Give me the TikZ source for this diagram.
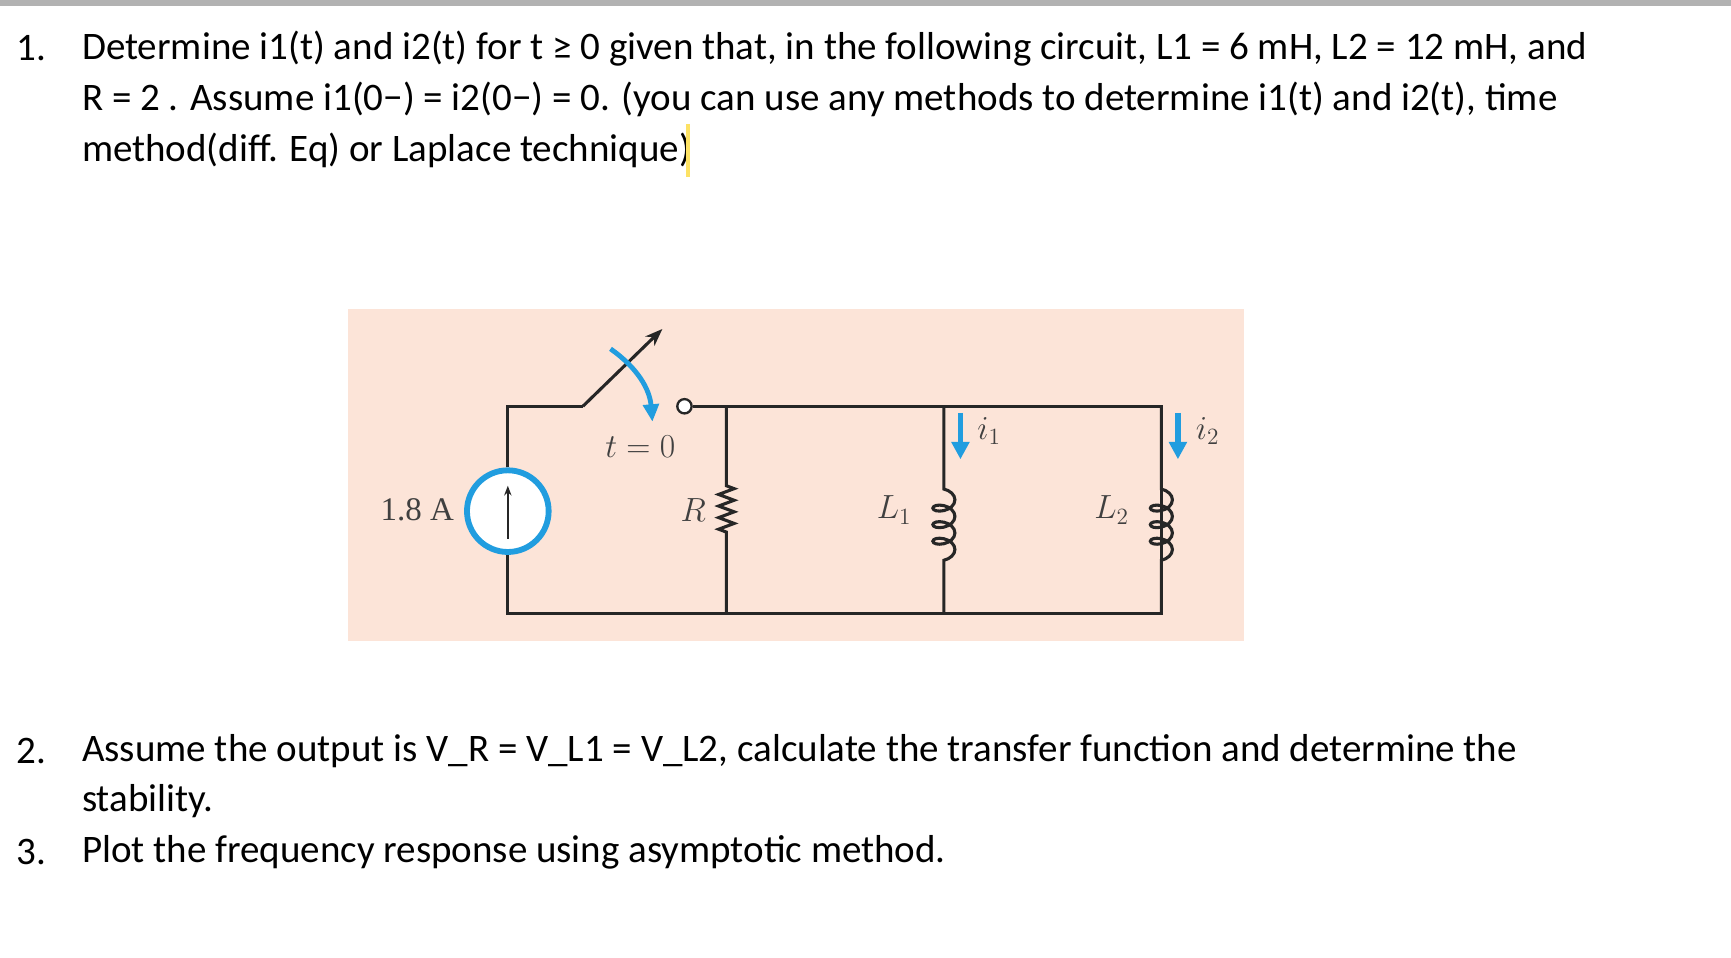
\documentclass[tikz,border=0pt]{standalone}
\usepackage{fontspec}
\setmainfont{Carlito}
\newfontfamily\serf{Liberation Serif}
\usetikzlibrary{decorations.pathmorphing,arrows.meta}
\begin{document}
\begin{tikzpicture}[x=0.02cm,y=-0.02cm,
  txt/.style={anchor=west,font=\fontsize{20.1}{23}\selectfont,inner sep=0},
  wire/.style={line width=1.6pt,black!85},
  lab/.style={font=\fontsize{17}{20}\selectfont\serf,text=black!75,inner sep=0},
  blu/.style={draw=cyan!80!blue!90,line width=3pt}]
\fill[white] (0,0) rectangle (1568,867);
\useasboundingbox (0,0) rectangle (1568,867);
\fill[gray!60] (0,0) rectangle (1568,5);
\node[txt] (n1) at (15,44) {1.};
\node[txt] (t1) at (74,44) {Determine i1(t) and i2(t) for t ≥ 0 given that, in the following circuit, L1 = 6 mH, L2 = 12 mH, and};
\node[txt] (t2) at (74,90) {R = 2 . Assume i1(0−) = i2(0−) = 0. (you can use any methods to determine i1(t) and i2(t), time};
\node[txt] (t3) at (74,136) {method(diff. Eq) or Laplace technique)};
\fill[yellow!70!orange!60] (621,112) rectangle (625,160);
\node[txt] (n2) at (15,680) {2.};
\node[txt] (t4) at (74,680) {Assume the output is V\_R = V\_L1 = V\_L2, calculate the transfer function and determine the};
\node[txt] (t5) at (74,726) {stability.};
\node[txt] (n3) at (15,772) {3.};
\node[txt] (t6) at (74,772) {Plot the frequency response using asymptotic method.};
% circuit
\definecolor{peach}{RGB}{252,228,216}
\fill[peach] (315,280) rectangle (1127,581);
\coordinate (tl) at (460,368);
\coordinate (bl) at (460,556);
\coordinate (sw) at (528,368);
\coordinate (swe) at (600,298);
\coordinate (tR) at (658,368);
\coordinate (bR) at (658,556);
\coordinate (t1c) at (855,368);
\coordinate (b1c) at (855,556);
\coordinate (t2c) at (1052,368);
\coordinate (b2c) at (1052,556);
\node[circle,blu,fill=white,minimum size=1.48cm,inner sep=0] (src) at (460,463) {};
\draw[wire] (src.north) -- (tl) -- (sw);
\draw[wire,-{Stealth[length=9pt]}] (sw) -- (swe);
\draw[wire] (src.south) -- (bl) -- (b2c) -- (t2c) -- (tR);
\draw[black!85,line width=1pt,-{Stealth[length=5pt]}] (460,488) -- (460,440);
\node[circle,draw=black!85,line width=1.2pt,fill=white,minimum size=0.26cm,inner sep=0] (term) at (620,368) {};
\draw[wire] (term.east) -- (tR);
\draw[wire] (tR) -- (658,440) decorate[decoration={zigzag,segment length=0.21cm,amplitude=0.14cm}] {-- (658,482)} -- (bR);
\draw[wire] (t1c) -- (855,443) decorate[decoration={coil,aspect=0.6,segment length=0.3cm,amplitude=0.2cm}] {-- (855,512)} -- (b1c);
\draw[wire] (t2c) -- (1052,443) decorate[decoration={coil,aspect=0.6,segment length=0.3cm,amplitude=0.2cm}] {-- (1052,512)} -- (b2c);
\draw[cyan!80!blue!90,line width=2.5pt,-{Triangle[length=9pt,width=8pt]}] (553,316) to[bend left=25] (591,382);
\draw[cyan!80!blue!90,line width=3pt,-{Triangle[length=9pt,width=9pt]}] (870,374) -- (870,416);
\draw[cyan!80!blue!90,line width=3pt,-{Triangle[length=9pt,width=9pt]}] (1067,374) -- (1067,416);
\node[lab] (lt) at (580,405) {$t=0$};
\node[lab] (li1) at (896,390) {$i_1$};
\node[lab] (li2) at (1094,390) {$i_2$};
\node[lab] (lsrc) at (378,462) {1.8 A};
\node[lab] (lR) at (628,462) {$R$};
\node[lab] (lL1) at (810,462) {$L_1$};
\node[lab] (lL2) at (1007,462) {$L_2$};
\end{tikzpicture}
\end{document}
